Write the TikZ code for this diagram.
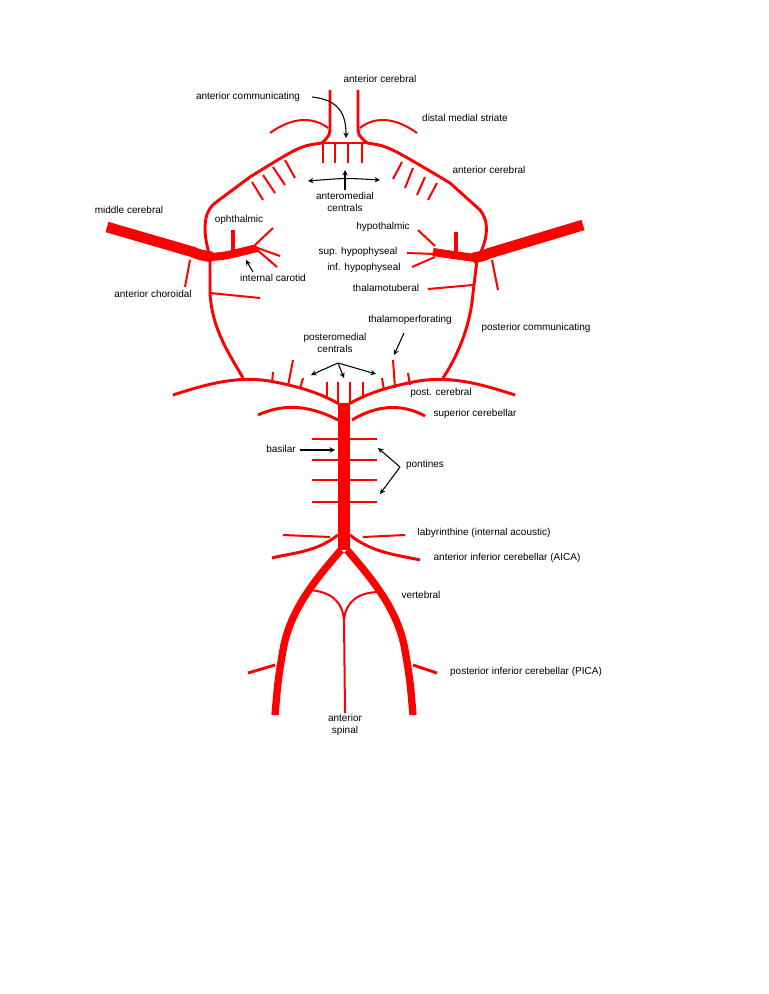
\documentclass[tikz,border=0pt]{standalone}
\usepackage{fontspec}
\setmainfont{Liberation Sans}
\begin{document}
\begin{tikzpicture}[x=0.75pt,y=-0.75pt,
  art/.style={draw=red,line width=2.2pt,line cap=butt},
  thin/.style={draw=red,line width=1.4pt},
  br/.style={draw=red,line width=1.5pt},
  big/.style={draw=red,line width=8pt},
  arr/.style={draw=black,line width=0.8pt,-stealth},
  lbl/.style={font=\fontsize{7.5}{8.5}\selectfont,inner sep=0pt,align=center}]
\useasboundingbox (0,0) rectangle (768,994);
% ring
\draw[art] (322,143) .. controls (300,146) .. (250,177) -- (215,203) .. controls (200,215) and (205,240) .. (210,257)
  -- (210,293) .. controls (212,330) and (230,355) .. (243,378);
\draw[art] (367,143) .. controls (388,146) .. (450,183) -- (480,210) .. controls (492,225) and (485,245) .. (477,260)
  -- (473,293) .. controls (470,330) and (455,360) .. (443,378);
\draw[art] (322,143) -- (367,143);
% anterior cerebral stems
\draw[art] (330,90) -- (330,125) .. controls (330,135) .. (322,143);
\draw[art] (358,90) -- (358,125) .. controls (358,135) .. (367,143);
% distal medial striate
\draw[br] (270,133) .. controls (295,115) and (315,118) .. (328,128);
\draw[br] (417,133) .. controls (392,115) and (372,118) .. (360,128);
% anteromedial ticks
\foreach \x in {323,335,348,362} \draw[br] (\x,143) -- (\x,163);
\draw[br] (285,160) -- (295,178); \draw[br] (273,167) -- (285,185);
\draw[br] (263,175) -- (275,193); \draw[br] (252,182) -- (263,200);
\draw[br] (402,162) -- (393,179); \draw[br] (413,168) -- (405,188);
\draw[br] (425,177) -- (417,195); \draw[br] (437,183) -- (428,200);
% middle cerebral / ICA left
\draw[draw=red,line width=8pt] (107,227) -- (193,252) .. controls (200,255) .. (212,257);
\draw[draw=red,line width=6pt] (210,257) .. controls (225,256) .. (257,248);
\draw[draw=red,line width=3pt] (233,230) -- (233,252);
\draw[br] (255,245) -- (273,228); \draw[br] (255,247) -- (280,256); \draw[br] (255,248) -- (277,267);
\draw[br] (190,260) -- (185,287);
\draw[br] (210,293) -- (260,298);
% right
\draw[draw=red,line width=8pt] (583,225) -- (490,253) .. controls (483,256) .. (473,258);
\draw[draw=red,line width=6pt] (475,258) .. controls (460,256) .. (433,252);
\draw[draw=red,line width=3pt] (456,232) -- (456,252);
\draw[br] (418,230) -- (435,246); \draw[br] (407,253) -- (435,254); \draw[br] (412,267) -- (435,257);
\draw[br] (428,289) -- (473,285);
\draw[br] (492,260) -- (498,290);
% post cerebral
\draw[art] (173,395) .. controls (210,383) and (240,375) .. (275,382) .. controls (305,388) and (325,395) .. (344,407);
\draw[art] (515,395) .. controls (478,383) and (448,375) .. (413,382) .. controls (383,388) and (363,395) .. (344,407);
% posteromedial ticks
\draw[br] (273,372) -- (272,383); \draw[br] (293,360) -- (288,386); \draw[br] (303,378) -- (300,389);
\draw[br] (327,382) -- (327,398); \draw[br] (338,382) -- (338,403); \draw[br] (350,382) -- (350,403); \draw[br] (363,382) -- (363,398);
\draw[br] (382,378) -- (384,390); \draw[br] (393,360) -- (395,388); \draw[br] (408,373) -- (410,385);
% basilar
\draw[draw=red,line width=9.5pt] (344,403) -- (344,550);
% superior cerebellar
\draw[art] (258,415) .. controls (280,405) and (305,403) .. (338,420);
\draw[art] (425,416) .. controls (405,405) and (380,403) .. (352,420);
% pontines
\foreach \y in {439,460,480,502} \draw[draw=red,line width=1pt] (312,\y) -- (377,\y);
% labyrinthine & AICA
\draw[br] (283,535) -- (330,537);
\draw[br] (363,537) -- (405,535);
\draw[art] (338,535) .. controls (315,553) and (290,553) .. (272,558);
\draw[art] (350,535) .. controls (372,553) and (398,555) .. (420,560);
% vertebrals
\draw[draw=red,line width=5.5pt] (341,550) .. controls (315,580) and (290,610) .. (283,650) .. controls (278,680) .. (275,715);
\draw[draw=red,line width=5.5pt] (347,550) .. controls (373,580) and (398,610) .. (405,650) .. controls (410,680) .. (413,715);
% anterior spinal
\draw[br] (310,590) .. controls (330,592) and (342,600) .. (344,620) -- (345,713);
\draw[br] (380,592) .. controls (360,592) and (346,600) .. (344,620);
% PICA
\draw[art] (275,665) -- (248,673);
\draw[art] (413,665) -- (437,673);
% arrows
\draw[arr] (312,97) .. controls (340,100) and (346,115) .. (346,138);
\draw[arr] (345,190) -- (345,170);
\draw[arr,stealth-stealth] (308,181) .. controls (345,178) .. (380,180);
\draw[arr] (253,272) -- (246,260);
\draw[arr] (404,333) -- (394,355);
\draw[arr] (338,363) -- (311,375);
\draw[arr] (338,363) -- (344,378);
\draw[arr] (338,363) -- (376,374);
\draw[arr] (300,450) -- (335,450);
\draw[arr] (400,467) -- (378,448);
\draw[arr] (400,467) -- (380,494);
% labels
\node[lbl] (l1) at (380,79) {anterior cerebral};
\node[lbl] (l2) at (248,97) {anterior communicating};
\node[lbl] (l3) at (465,118) {distal medial striate};
\node[lbl] (l4) at (489,170) {anterior cerebral};
\node[lbl] (l5) at (345,202) {anteromedial\\centrals};
\node[lbl] (l6) at (129,210) {middle cerebral};
\node[lbl] (l7) at (239,220) {ophthalmic};
\node[lbl] (l8) at (383,227) {hypothalmic};
\node[lbl] (l9) at (358,252) {sup. hypophyseal};
\node[lbl] (l10) at (364,268) {inf. hypophyseal};
\node[lbl] (l11) at (273,278) {internal carotid};
\node[lbl] (l12) at (386,288) {thalamotuberal};
\node[lbl] (l13) at (153,294) {anterior choroidal};
\node[lbl] (l14) at (410,320) {thalamoperforating};
\node[lbl] (l15) at (536,328) {posterior communicating};
\node[lbl] (l16) at (335,343) {posteromedial\\centrals};
\node[lbl] (l17) at (441,393) {post. cerebral};
\node[lbl] (l18) at (475,414) {superior cerebellar};
\node[lbl] (l19) at (281,449) {basilar};
\node[lbl] (l20) at (425,465) {pontines};
\node[lbl] (l21) at (484,533) {labyrinthine (internal acoustic)};
\node[lbl] (l22) at (507,558) {anterior inferior cerebellar (AICA)};
\node[lbl] (l23) at (421,595) {vertebral};
\node[lbl] (l24) at (526,672) {posterior inferior cerebellar (PICA)};
\node[lbl] (l25) at (345,725) {anterior\\spinal};
\end{tikzpicture}
\end{document}
